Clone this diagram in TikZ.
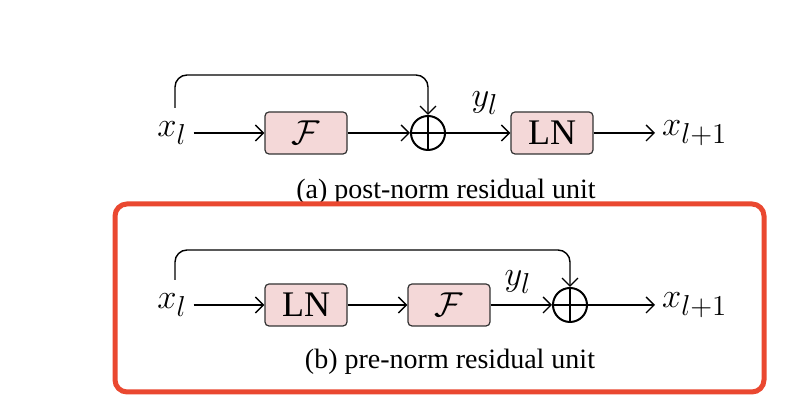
\documentclass[tikz,border=0pt]{standalone}
\usepackage{fontspec}
\setmainfont{Liberation Serif}
\usetikzlibrary{arrows.meta}
\begin{document}
\begin{tikzpicture}[x=0.5pt,y=-0.5pt,
  blk/.style={draw=black!80,fill={rgb,255:red,244;green,216;blue,216},rounded corners=2pt,minimum width=41pt,minimum height=21pt,font=\fontsize{18}{18}\selectfont,line width=0.6pt},
  var/.style={font=\fontsize{19}{19}\selectfont},
  captxt/.style={font=\fontsize{14}{14}\selectfont},
  arr/.style={-{Straight Barb[length=4pt]},line width=0.7pt},
  sum/.style={circle,draw,line width=1pt,minimum size=17pt,inner sep=0pt,path picture={\draw[line width=1pt] (path picture bounding box.north)--(path picture bounding box.south) (path picture bounding box.west)--(path picture bounding box.east);}}]
\useasboundingbox (0,0) rectangle (800,410);
% (a)
\node[var] (xa) at (172,133) {$x_l$};
\node[blk] (fa) at (306,133) {$\mathcal{F}$};
\node[sum] (pa) at (428,133) {};
\node[var] (ya) at (485,103) {$y_l$};
\node[blk] (lna) at (552,133) {LN};
\node[var,anchor=west] (xoa) at (655,133) {$x_{l+1}$};
\draw[arr] (xa.east|-pa)--(fa.west);
\draw[arr] (fa.east)--(pa.west);
\draw[arr] (pa.east)--(lna.west);
\draw[arr] (lna.east)--(lna.east-|xoa.west);
\coordinate (sa) at (175,108);
\draw[arr,rounded corners=6pt] (sa)--(175,75)--(428,75)--(pa.north);
\node[captxt] (ca) at (446,192) {(a) post-norm residual unit};
\draw[line width=2.5pt,draw={rgb,255:red,234;green,72;blue,48},fill=white,rounded corners=6pt] (115,204) rectangle (764,392);
% (b)
\node[var] (xb) at (172,305) {$x_l$};
\node[blk] (lnb) at (306,305) {LN};
\node[blk] (fb) at (449,305) {$\mathcal{F}$};
\node[var] (yb) at (518,282) {$y_l$};
\node[sum] (pb) at (570,305) {};
\node[var,anchor=west] (xob) at (655,305) {$x_{l+1}$};
\draw[arr] (xb.east|-pb)--(lnb.west);
\draw[arr] (lnb.east)--(fb.west);
\draw[arr] (fb.east)--(pb.west);
\draw[arr] (pb.east)--(pb.east-|xob.west);
\coordinate (sb) at (175,280);
\draw[arr,rounded corners=6pt] (sb)--(175,250)--(570,250)--(pb.north);
\node[captxt] (cb) at (450,362) {(b) pre-norm residual unit};
\end{tikzpicture}
\end{document}
